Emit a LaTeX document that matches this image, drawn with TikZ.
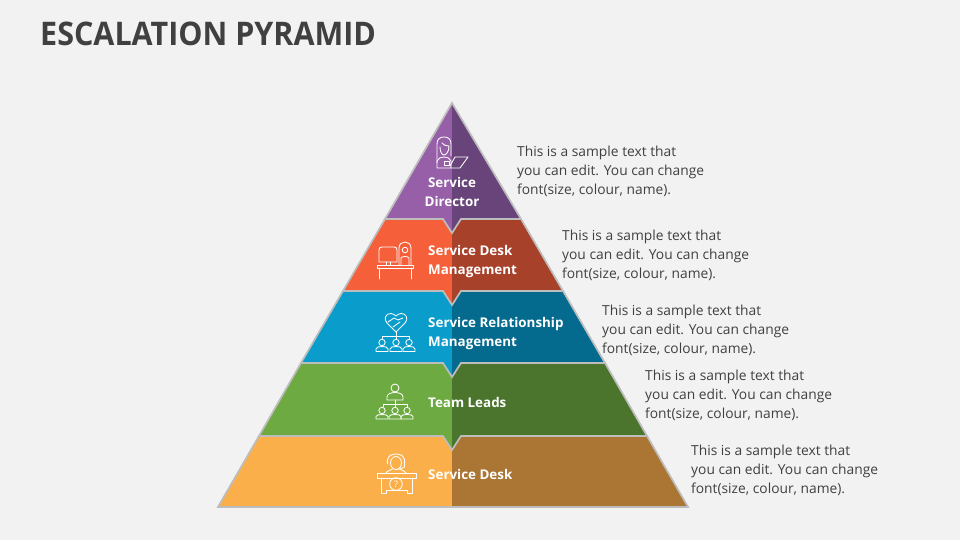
\documentclass[tikz,border=0pt]{standalone}
\usepackage{fontspec}
\setmainfont{Open Sans}
\definecolor{bgc}{HTML}{F2F2F2}
\definecolor{edgec}{HTML}{BDBDBD}
\definecolor{titlec}{HTML}{404040}
\definecolor{bodyc}{HTML}{404040}
\definecolor{pl}{HTML}{965FA8}\definecolor{pr}{HTML}{69447A}
\definecolor{ol}{HTML}{F5603B}\definecolor{or}{HTML}{A7412A}
\definecolor{bl}{HTML}{0A9DCB}\definecolor{br}{HTML}{056B8E}
\definecolor{gl}{HTML}{6DAA42}\definecolor{gr}{HTML}{4B742D}
\definecolor{yl}{HTML}{FBAF4B}\definecolor{yr}{HTML}{AB7533}
\tikzset{
  bandlabel/.style={text=white,font=\fontsize{13.4}{19}\selectfont\bfseries,align=left,anchor=west,inner sep=0pt},
  bandlabelc/.style={text=white,font=\fontsize{13.4}{19}\selectfont\bfseries,align=center,inner sep=0pt},
  note/.style={text=bodyc,font=\fontsize{13.8}{19.2}\selectfont,align=left,anchor=west,inner sep=0pt},
  icon/.style={draw=white,line width=0.85pt,line join=round,line cap=round,fill=none},
  outline/.style={draw=edgec,line width=1.7pt,line join=miter}
}
% #1 top y, #2 top-left x, #3 top-right x, #4 bottom y, #5 bottom-left x, #6 bottom-right x, #7 left colour, #8 right colour
\newcommand\bandshape[8]{%
  \fill[#7] (452,#1) -- (#2,#1) -- (#5,#4) -- (443,#4) -- (452,#4+14) -- (452,#1) -- cycle;
  \fill[#8] (452,#1) -- (#3,#1) -- (#6,#4) -- (461,#4) -- (452,#4+14) -- (452,#1) -- cycle;
  \draw[outline] (#2,#1) -- (#5,#4) -- (443,#4) -- (452,#4+14) -- (461,#4) -- (#6,#4) -- (#3,#1);
}
\newcommand\person[3]{% centre x, head y, bottom y
  \draw[icon] (#1,#2) circle (3.2);
  \draw[icon] (#1-6,#3) -- (#1-6,#3-2.5) .. controls (#1-6,#2+4.5) and (#1-3,#2+4) .. (#1,#2+4) .. controls (#1+3,#2+4) and (#1+6,#2+4.5) .. (#1+6,#3-2.5) -- (#1+6,#3) -- cycle;
}
\begin{document}
\begin{tikzpicture}[x=1pt,y=-1pt]
\useasboundingbox (0,0) rectangle (960,540);
\fill[bgc] (0,0) rectangle (960,540);
\node[text=titlec,font=\fontsize{32.5}{36}\selectfont\bfseries,anchor=west,inner sep=0pt,transform shape,xscale=.938] (title) at (40,34) {ESCALATION PYRAMID};

% base band (no notch)
\fill[yl] (452,436) -- (259,436) -- (218,507) -- (452,507) -- cycle;
\fill[yr] (452,436) -- (647,436) -- (688,507) -- (452,507) -- cycle;
\draw[outline] (259,436) -- (218,507) -- (688,507) -- (647,436);
\bandshape{363}{301}{605}{436}{259}{647}{gl}{gr}
\bandshape{291}{343}{563}{363}{301}{605}{bl}{br}
\bandshape{219}{385}{521}{291}{343}{563}{ol}{or}
% apex band
\fill[pl] (452,103) -- (385,219) -- (443,219) -- (452,233) -- cycle;
\fill[pr] (452,103) -- (521,219) -- (461,219) -- (452,233) -- cycle;
\draw[outline] (521,219) -- (452,103) -- (385,219) -- (443,219) -- (452,233) -- (461,219) -- (521,219);

% labels
\node[bandlabelc] (l1) at (452,192) {Service\\Director};
\node[bandlabel] (l2) at (428,262) {Service Desk\\Management};
\node[bandlabel] (l3) at (428,334) {Service Relationship\\Management};
\node[bandlabel] (l4) at (428,402) {Team Leads};
\node[bandlabel] (l5) at (428,474) {Service Desk};

% notes
\node[note] (n1) at (517,171.4) {This is a sample text that\\you can edit. You can change\\font(size, colour, name).};
\node[note] (n2) at (562,255.4) {This is a sample text that\\you can edit. You can change\\font(size, colour, name).};
\node[note] (n3) at (602,330.4) {This is a sample text that\\you can edit. You can change\\font(size, colour, name).};
\node[note] (n4) at (645,395.4) {This is a sample text that\\you can edit. You can change\\font(size, colour, name).};
\node[note] (n5) at (691,470.4) {This is a sample text that\\you can edit. You can change\\font(size, colour, name).};

% icon: director
\draw[icon] (437,163) -- (437,144) .. controls (437,139) and (440,137) .. (444,137) .. controls (448,137) and (451,139) .. (451,144) -- (451,156);
\draw[icon] (440,147) .. controls (440,152) and (442,155) .. (444,155) .. controls (446,155) and (449,152) .. (449,146) .. controls (446,146) and (443,145) .. (442,143);
\draw[icon] (437,168) -- (437,161) .. controls (438,158) and (441,157) .. (444,157) .. controls (447,157) and (450,158) .. (451,161) -- (451,168) -- cycle;
\draw[icon] (444,161) rectangle (449,165);
\draw[icon] (455,157) -- (468,157) -- (460,168) -- (451,168);
\draw[icon] (455,157) -- (450,166);

% icon: desk management
\draw[icon] (379,250) .. controls (379,248) and (380,247) .. (382,247) -- (394,247) .. controls (396,247) and (397,248) .. (397,250) -- (397,262) -- (379,262) -- cycle;
\draw[icon] (386,262) -- (386,265.5) (390,262) -- (390,265.5);
\draw[icon] (377,265.5) rectangle (413,268);
\draw[icon] (379,268) -- (379,279) (411,268) -- (411,279);
\draw[icon] (399,265) -- (399,248) .. controls (399,244) and (402,242) .. (405,242) .. controls (408,242) and (411,244) .. (411,248) -- (411,265);
\draw[icon] (405,250) circle (2.8);
\draw[icon] (401,265) -- (401,258) .. controls (402,256) and (408,256) .. (409,258) -- (409,265);

% icon: relationship
\draw[icon] (396,332) -- (387,323) .. controls (383,319) and (386,313) .. (391,313.5) .. controls (393,313.5) and (395,315) .. (396,316) .. controls (397,315) and (399,313.5) .. (401,313.5) .. controls (406,313) and (409,319) .. (405,323) -- cycle;
\draw[icon] (388,322) -- (394,318) -- (398,320) -- (403,318);
\draw[icon] (393,327) -- (400,322);
\draw[icon] (396,332) -- (396,336);
\draw[icon] (382,339) -- (382,336) -- (409,336) -- (409,339) (396,336) -- (396,339);
\person{382}{342.5}{351.5}
\person{396}{342.5}{351.5}
\person{409}{342.5}{351.5}

% icon: team leads
\draw[icon] (395,388) circle (4);
\draw[icon] (387,400) -- (387,397) .. controls (387,394) and (391,392.5) .. (395,392.5) .. controls (399,392.5) and (403,394) .. (403,397) -- (403,400) -- cycle;
\draw[icon] (395,400) -- (395,407);
\draw[icon] (383,407) -- (383,404) -- (407,404) -- (407,407);
\person{382}{410.5}{419}
\person{395}{410.5}{419}
\person{407}{410.5}{419}

% icon: service desk
\draw[icon] (396,463) ellipse (5.5 and 6.5);
\draw[icon] (387.5,464) .. controls (386.5,456) and (391,454) .. (396,454) .. controls (401,454) and (405.5,456) .. (404.5,464);
\draw[icon] (404.5,464) -- (404.5,467) -- (399,469.5);
\draw[icon] (386,473) .. controls (387,470.5) and (391,470.5) .. (392.5,469) (406,473) .. controls (405,470.5) and (402,470.5) .. (400.5,469.5);
\draw[icon] (377,473.5) rectangle (416,478);
\draw[icon] (381,478) -- (381,493) -- (386,493) -- (386,490) -- (407,490) -- (407,493) -- (412,493) -- (412,478);
\draw[icon] (396,484) circle (6.3);
\node[text=white,font=\fontsize{9}{9}\selectfont,inner sep=0pt] (q) at (396,484) {?};
\end{tikzpicture}
\end{document}
